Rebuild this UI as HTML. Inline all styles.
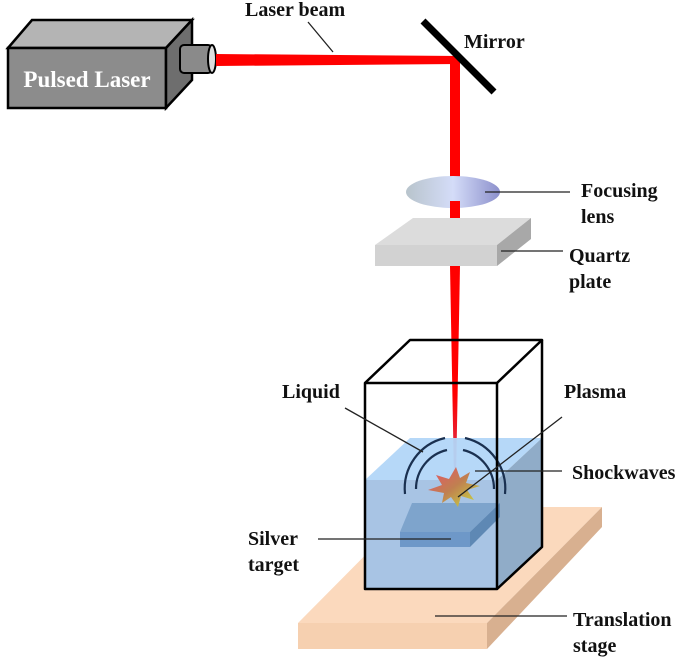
<!DOCTYPE html>
<html><head><style>
body{margin:0;background:#fff}
svg text{font-family:"Liberation Serif",serif;font-weight:bold;font-size:20px;fill:#111}
</style></head><body>
<svg width="685" height="659" viewBox="0 0 685 659" xmlns="http://www.w3.org/2000/svg">
<defs>
<linearGradient id="lens" x1="0" x2="1"><stop offset="0" stop-color="#b8c4cc"/><stop offset="0.5" stop-color="#d4dcf8"/><stop offset="1" stop-color="#8c90cc"/></linearGradient>
<linearGradient id="star" x1="0" x2="1" y1="0" y2="1"><stop offset="0" stop-color="#e8506a"/><stop offset="0.5" stop-color="#c08050"/><stop offset="1" stop-color="#c8e040"/></linearGradient>
<linearGradient id="cone" x1="0" x2="0" y1="0" y2="1"><stop offset="0.6" stop-color="#ff0000"/><stop offset="1" stop-color="#d04060"/></linearGradient>
</defs>
<polygon points="298,623 413,507 602,507 487,623" fill="#fbd9bd"/>
<polygon points="298,623 487,623 487,649 298,649" fill="#f6d0b0"/>
<polygon points="487,623 602,507 602,527 487,649" fill="#d8b090"/>
<polygon points="8,48 32,20 192,20 166,48" fill="#b4b4b4" stroke="#000" stroke-width="2.5"/>
<rect x="8" y="48" width="158" height="60" fill="#8c8c8c" stroke="#000" stroke-width="2.5"/>
<polygon points="166,48 192,20 192,80 166,108" fill="#6e6e6e" stroke="#000" stroke-width="2.5"/>
<rect x="180" y="45" width="32" height="28" rx="4" fill="#8a8a8a" stroke="#000" stroke-width="2"/>
<ellipse cx="212" cy="59" rx="4" ry="14" fill="#ddd" stroke="#000" stroke-width="2"/>
<text x="87" y="87" text-anchor="middle" style="fill:#fff;font-size:23px">Pulsed Laser</text>
<polygon points="216,54 460,56 460,64 216,66" fill="#ff0000"/>
<rect x="450" y="56" width="10" height="124" fill="#ff0000"/>
<line x1="423" y1="21" x2="494" y2="92" stroke="#000" stroke-width="7"/>
<ellipse cx="453" cy="192" rx="47" ry="16" fill="url(#lens)"/>
<rect x="450" y="201" width="10" height="30" fill="#ff0000"/>
<polygon points="413,218 531,218 497,245 375,245" fill="#dcdcdc"/>
<rect x="375" y="245" width="122" height="21" fill="#d2d2d2"/>
<polygon points="497,245 531,218 531,239 497,266" fill="#a8a8a8"/>
<polygon points="450,266 460,266 456,480 454,480" fill="url(#cone)"/>
<polygon points="365,480 410,438 542,438 497,480" fill="#b2d6f8" opacity="0.95"/>
<rect x="365" y="480" width="132" height="109" fill="#a8c4e4"/>
<polygon points="497,480 542,438 542,547 497,589" fill="#90acc8"/>
<polygon points="400,532 412,503 500,503 470,532" fill="#7ea4cc"/>
<rect x="400" y="532" width="70" height="15" fill="#6e98c8"/>
<polygon points="470,532 500,503 500,517 470,547" fill="#5e88b4"/>
<polygon points="456,467 460,478 470,472 466,483 480,486 467,490 474,500 461,496 458,507 451,497 442,503 444,493 428,490 442,485 436,475 449,479" fill="url(#star)"/>
<g fill="none" stroke="#1a3050" stroke-width="2.2">
<path d="M416,489 A40,40 0 0 1 447,450"/><path d="M463,450 A40,40 0 0 1 494,489"/>
<path d="M405,494 A52,52 0 0 1 445,438"/><path d="M465,438 A52,52 0 0 1 505,494"/>
</g>
<g fill="none" stroke="#000" stroke-width="2.5" stroke-linejoin="round">
<rect x="365" y="383" width="132" height="206"/>
<polyline points="365,383 410,340 542,340 497,383"/>
<polyline points="542,340 542,547 497,589"/>
</g>
<g stroke="#222" stroke-width="1.3">
<line x1="308" y1="22" x2="333" y2="52"/>
<line x1="485" y1="192" x2="570" y2="192"/>
<line x1="501" y1="251" x2="563" y2="251"/>
<line x1="345" y1="408" x2="423" y2="452"/>
<line x1="562" y1="417" x2="458" y2="497"/>
<line x1="475" y1="471" x2="562" y2="471"/>
<line x1="318" y1="539" x2="451" y2="539"/>
<line x1="435" y1="616" x2="567" y2="616"/>
</g>
<text x="245" y="16">Laser beam</text>
<text x="464" y="48">Mirror</text>
<text x="581" y="197">Focusing</text>
<text x="581" y="223">lens</text>
<text x="569" y="262">Quartz</text>
<text x="569" y="288">plate</text>
<text x="282" y="398">Liquid</text>
<text x="564" y="398">Plasma</text>
<text x="572" y="479">Shockwaves</text>
<text x="248" y="545">Silver</text>
<text x="248" y="571">target</text>
<text x="573" y="626">Translation</text>
<text x="573" y="652">stage</text>
</svg>
</body></html>
